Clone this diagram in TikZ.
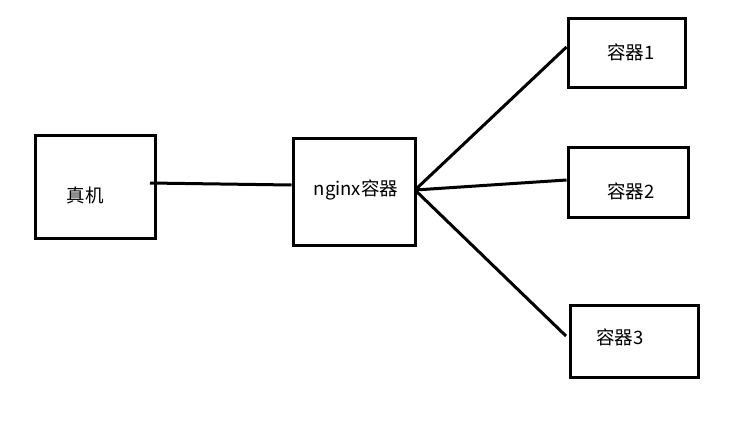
\documentclass[tikz,border=0pt]{standalone}
\usepackage{fontspec}
\setmainfont{Noto Sans CJK SC}
\begin{document}
\begin{tikzpicture}[x=1pt,y=-1pt,
  box/.style={draw,line width=3pt,inner sep=0pt},
  lbl/.style={font=\fontsize{18.5}{20}\selectfont,inner sep=0pt},
  conn/.style={line width=3pt}]
\useasboundingbox (0,0) rectangle (747,424);
\fill[white] (0,0) rectangle (747,424);
\node[box,minimum width=120pt,minimum height=103pt] (host) at (95,186.5) {};
\node[box,minimum width=122pt,minimum height=107pt] (ngx) at (354,191.5) {};
\node[box,minimum width=117pt,minimum height=69pt] (c1) at (626.5,52.5) {};
\node[box,minimum width=120pt,minimum height=70pt] (c2) at (628,182) {};
\node[box,minimum width=128pt,minimum height=72pt] (c3) at (634,341) {};
\node[lbl] (t0) at (85,195) {真机};
\node[lbl] (t1) at (356,190) {nginx容器};
\node[lbl] (t2) at (631,52) {容器1};
\node[lbl] (t3) at (631,191) {容器2};
\node[lbl] (t4) at (620,337) {容器3};
\coordinate (hs) at (150,183);
\coordinate (hub) at (415,190);
\draw[conn] (hs) -- (ngx.west |- 0,185);
\draw[conn] (hub) -- (c1.west |- 0,47);
\draw[conn] (hub) -- (c2.west |- 0,180);
\draw[conn] (hub) -- (566,336);
\end{tikzpicture}
\end{document}
